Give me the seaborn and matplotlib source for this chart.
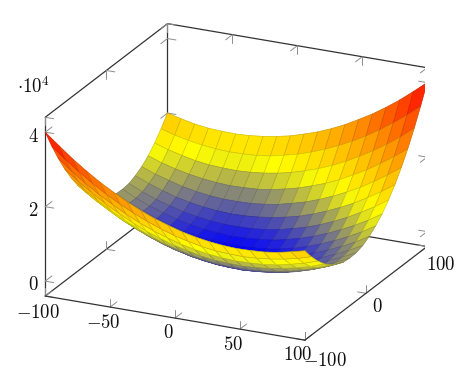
import matplotlib
matplotlib.use("Agg")
import matplotlib.pyplot as plt
import numpy as np
import seaborn as sns

x_values = [-100.0, -89.47, -78.95, -68.42, -57.89, -47.37, -36.84, -26.32, -15.79, -5.26,
            5.26, 15.79, 26.32, 36.84, 47.37, 57.89, 68.42, 78.95, 89.47, 100.0]
y_values = list(x_values)

# Height of the surface in units of 10^4, one row per y value
z_rows = [
    [4.00, 3.70, 3.41, 3.15, 2.91, 2.70, 2.50, 2.33, 2.18, 2.06, 1.95, 1.87, 1.81, 1.77, 1.75, 1.76, 1.78, 1.83, 1.91, 2.00],
    [3.50, 3.20, 2.93, 2.68, 2.45, 2.25, 2.07, 1.91, 1.77, 1.65, 1.56, 1.48, 1.43, 1.41, 1.40, 1.42, 1.46, 1.52, 1.60, 1.71],
    [3.04, 2.75, 2.49, 2.25, 2.04, 1.84, 1.67, 1.52, 1.40, 1.29, 1.21, 1.15, 1.11, 1.09, 1.10, 1.12, 1.17, 1.25, 1.34, 1.46],
    [2.62, 2.35, 2.10, 1.87, 1.67, 1.48, 1.32, 1.19, 1.07, 0.98, 0.90, 0.85, 0.83, 0.82, 0.84, 0.88, 0.94, 1.02, 1.12, 1.25],
    [2.25, 1.99, 1.75, 1.53, 1.34, 1.17, 1.02, 0.89, 0.79, 0.70, 0.64, 0.60, 0.59, 0.59, 0.62, 0.67, 0.74, 0.84, 0.95, 1.09],
    [1.92, 1.67, 1.45, 1.24, 1.06, 0.90, 0.76, 0.64, 0.55, 0.48, 0.43, 0.40, 0.39, 0.41, 0.45, 0.51, 0.59, 0.70, 0.83, 0.98],
    [1.64, 1.40, 1.19, 0.99, 0.82, 0.67, 0.54, 0.44, 0.35, 0.29, 0.25, 0.24, 0.24, 0.27, 0.32, 0.39, 0.49, 0.60, 0.74, 0.90],
    [1.40, 1.17, 0.97, 0.79, 0.63, 0.49, 0.37, 0.28, 0.20, 0.16, 0.13, 0.12, 0.14, 0.18, 0.24, 0.32, 0.43, 0.55, 0.70, 0.88],
    [1.21, 0.99, 0.80, 0.63, 0.48, 0.35, 0.24, 0.16, 0.10, 0.06, 0.04, 0.05, 0.08, 0.13, 0.20, 0.29, 0.41, 0.55, 0.71, 0.89],
    [1.06, 0.85, 0.67, 0.51, 0.37, 0.25, 0.16, 0.09, 0.04, 0.01, 0.01, 0.02, 0.06, 0.12, 0.20, 0.31, 0.44, 0.59, 0.76, 0.95],
    [0.95, 0.76, 0.59, 0.44, 0.31, 0.20, 0.12, 0.06, 0.02, 0.01, 0.01, 0.04, 0.09, 0.16, 0.25, 0.37, 0.51, 0.67, 0.85, 1.06],
    [0.89, 0.71, 0.55, 0.41, 0.29, 0.20, 0.13, 0.08, 0.05, 0.04, 0.06, 0.10, 0.16, 0.24, 0.35, 0.48, 0.63, 0.80, 0.99, 1.21],
    [0.88, 0.70, 0.55, 0.43, 0.32, 0.24, 0.18, 0.14, 0.12, 0.13, 0.16, 0.20, 0.28, 0.37, 0.49, 0.63, 0.79, 0.97, 1.17, 1.40],
    [0.90, 0.74, 0.60, 0.49, 0.39, 0.32, 0.27, 0.24, 0.24, 0.25, 0.29, 0.35, 0.44, 0.54, 0.67, 0.82, 0.99, 1.19, 1.40, 1.64],
    [0.98, 0.83, 0.70, 0.59, 0.51, 0.45, 0.41, 0.39, 0.40, 0.43, 0.48, 0.55, 0.64, 0.76, 0.90, 1.06, 1.24, 1.45, 1.67, 1.92],
    [1.09, 0.95, 0.84, 0.74, 0.67, 0.62, 0.59, 0.59, 0.60, 0.64, 0.70, 0.79, 0.89, 1.02, 1.17, 1.34, 1.53, 1.75, 1.99, 2.25],
    [1.25, 1.12, 1.02, 0.94, 0.88, 0.84, 0.82, 0.83, 0.85, 0.90, 0.98, 1.07, 1.19, 1.32, 1.48, 1.67, 1.87, 2.10, 2.35, 2.62],
    [1.46, 1.34, 1.25, 1.17, 1.12, 1.10, 1.09, 1.11, 1.15, 1.21, 1.29, 1.40, 1.52, 1.67, 1.84, 2.04, 2.25, 2.49, 2.75, 3.04],
    [1.71, 1.60, 1.52, 1.46, 1.42, 1.40, 1.41, 1.43, 1.48, 1.56, 1.65, 1.77, 1.91, 2.07, 2.25, 2.45, 2.68, 2.93, 3.20, 3.50],
    [2.00, 1.91, 1.83, 1.78, 1.76, 1.75, 1.77, 1.81, 1.87, 1.95, 2.06, 2.18, 2.33, 2.50, 2.70, 2.91, 3.15, 3.41, 3.70, 4.00],
]

x_ticks = [-100, -50, 0, 50, 100]
y_ticks = [-100, 0, 100]
z_ticks = [0, 2, 4]
x_labels = ["$-100$", "$-50$", "$0$", "$50$", "$100$"]
y_labels = ["$-100$", "$0$", "$100$"]
z_labels = ["$0$", "$2$", "$4$"]

W, H = 474, 389
XMIN, XMAX, YMIN, YMAX, ZMIN, ZMAX = -100, 100, -100, 100, -0.4, 4.4
TX, TY, TZ = 6.5, 11, 0.22  # tick lengths along each axis

sns.set_style("white")
plt.rcParams["mathtext.fontset"] = "cm"

# blue -> yellow -> orange -> red
hot = sns.blend_palette(["#0000ff", "#ffff00", "#ff8000", "#ff0000"], as_cmap=True)

fig = plt.figure(figsize=(W / 100, H / 100), dpi=100)
ax = fig.add_axes([-6.1 / W, 7.35 / H, 1, 1], projection="3d", proj_type="ortho", computed_zorder=False)
ax.view_init(elev=21.14, azim=-64.78)
ax.set_box_aspect((1, 1, 0.668), zoom=1.12)
ax.set_xlim(XMIN, XMAX, view_margin=0)
ax.set_ylim(YMIN, YMAX, view_margin=0)
ax.set_zlim(ZMIN, ZMAX, view_margin=0)
ax.set_axis_off()
ax.patch.set_alpha(0)

X, Y = np.meshgrid(x_values, y_values)
Z = np.array(z_rows)

# Colour each cell by its mean height, edges a bit darker than the face
cell = (Z[:-1, :-1] + Z[1:, :-1] + Z[:-1, 1:] + Z[1:, 1:]) / 4
face = hot(cell / Z.max())
edge = face.copy()
edge[..., :3] *= 0.82
surf = ax.plot_surface(X, Y, Z, facecolors=face, shade=False, rstride=1, cstride=1, linewidth=0.45, zorder=2)
surf.set_edgecolor(edge.reshape(-1, 4))


def box_line(p, q, zorder):
    ax.plot([p[0], q[0]], [p[1], q[1]], [p[2], q[2]], color="#333333", lw=0.9, zorder=zorder)


def tick(p, d1, d2, zorder):
    for d in (d1, d2):
        ax.plot([p[0], p[0] + d[0]], [p[1], p[1] + d[1]], [p[2], p[2] + d[2]], color="#8c8c8c", lw=0.7, zorder=zorder)


# Box lines behind the surface
box_line((XMIN, YMIN, ZMIN), (XMIN, YMAX, ZMIN), 1)
box_line((XMIN, YMAX, ZMIN), (XMAX, YMAX, ZMIN), 1)
box_line((XMIN, YMAX, ZMIN), (XMIN, YMAX, ZMAX), 1)
box_line((XMIN, YMIN, ZMAX), (XMIN, YMAX, ZMAX), 1)
box_line((XMIN, YMAX, ZMAX), (XMAX, YMAX, ZMAX), 1)
box_line((XMIN, YMIN, ZMIN), (XMIN, YMIN, ZMAX), 1)
box_line((XMAX, YMAX, ZMIN), (XMAX, YMAX, ZMAX), 1)

for v in x_ticks:
    tick((v, YMAX, ZMIN), (0, -TY, 0), (0, 0, TZ), 1)
    tick((v, YMAX, ZMAX), (0, -TY, 0), (0, 0, -TZ), 1)
    tick((v, YMIN, ZMIN), (0, TY, 0), (0, 0, TZ), 3)
for v in y_ticks:
    tick((XMIN, v, ZMIN), (TX, 0, 0), (0, 0, TZ), 1)
    tick((XMIN, v, ZMAX), (TX, 0, 0), (0, 0, -TZ), 1)
    tick((XMAX, v, ZMIN), (-TX, 0, 0), (0, 0, TZ), 3)
for v in z_ticks:
    tick((XMIN, YMAX, v), (TX, 0, 0), (0, -TY, 0), 1)
    tick((XMIN, YMIN, v), (TX, 0, 0), (0, TY, 0), 1)
    tick((XMAX, YMAX, v), (-TX, 0, 0), (0, -TY, 0), 1)

# Box lines in front of the surface
box_line((XMIN, YMIN, ZMIN), (XMAX, YMIN, ZMIN), 3)
box_line((XMAX, YMIN, ZMIN), (XMAX, YMAX, ZMIN), 3)

# Tick labels, placed in pixels
x_label_pos = [(38, 313), (103, 323), (168, 332), (233, 345), (298, 355)]
y_label_pos = [(325, 361), (377, 306), (441, 265)]
z_label_pos = [(33, 285), (33, 211), (33, 136)]
for labels, places in ((x_labels, x_label_pos), (y_labels, y_label_pos), (z_labels, z_label_pos)):
    for text, (px, py) in zip(labels, places):
        fig.text(px / W, 1 - py / H, text, fontsize=13.5, ha="center", va="center", color="#111111")
fig.text(33 / W, 1 - 87 / H, r"$\cdot 10^{4}$", fontsize=13.5, ha="center", va="center", color="#111111")

fig.savefig("out.png", dpi=100)
